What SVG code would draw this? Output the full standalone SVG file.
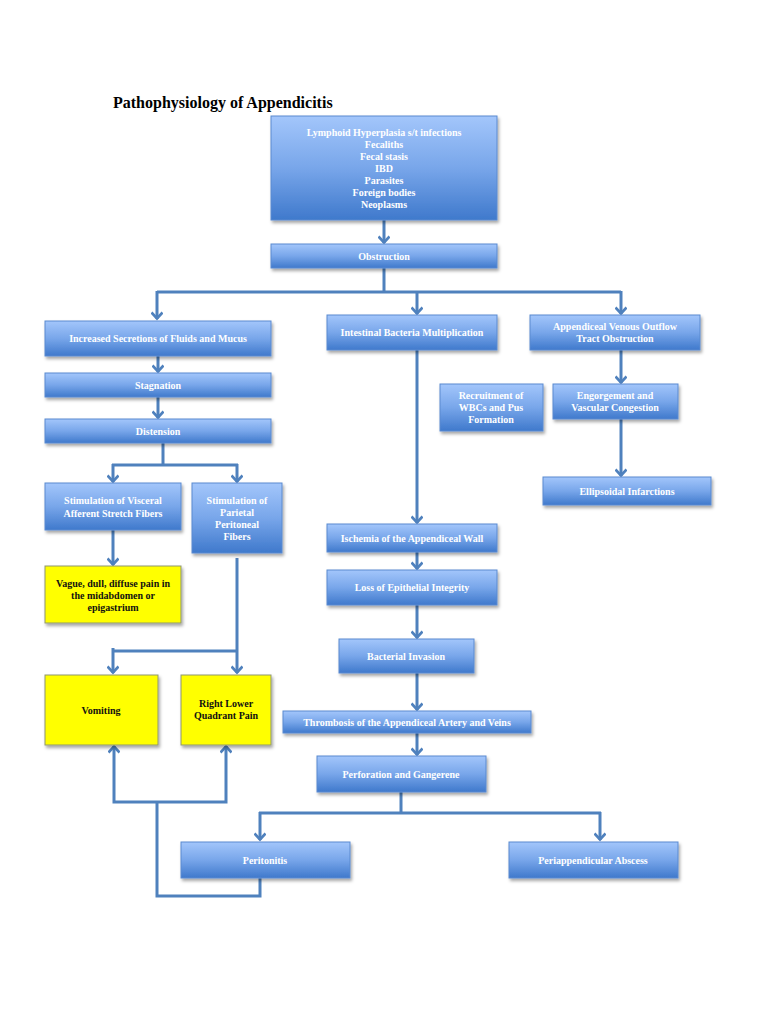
<svg xmlns="http://www.w3.org/2000/svg" width="768" height="1024" viewBox="0 0 768 1024">
<defs>
<linearGradient id="blue" x1="0" y1="0" x2="0" y2="1">
<stop offset="0" stop-color="#a3c6fb"/>
<stop offset="0.5" stop-color="#78a6ea"/>
<stop offset="1" stop-color="#3f79cc"/>
</linearGradient>
<filter id="sh" x="-10%" y="-10%" width="130%" height="140%">
<feDropShadow dx="1.5" dy="2.5" stdDeviation="1.5" flood-color="#000" flood-opacity="0.35"/>
</filter>
<marker id="ar" viewBox="0 0 12 12" refX="10.5" refY="6" markerWidth="12" markerHeight="12" markerUnits="userSpaceOnUse" orient="auto-start-reverse">
<path d="M4,0.5 L10,6 L4,11.5" fill="none" stroke="#4f81bd" stroke-width="2.6" stroke-linejoin="miter"/>
</marker>
</defs>
<style>
.b{fill:url(#blue);stroke:#5a8ad0;stroke-width:1;filter:url(#sh)}
.y{fill:#ffff00;stroke:#8f9670;stroke-width:1;filter:url(#sh)}
.t{font-family:"Liberation Serif","DejaVu Serif",serif;font-size:10px;font-weight:bold;fill:#ffffff;text-anchor:middle}
.k{font-family:"Liberation Serif","DejaVu Serif",serif;font-size:10px;font-weight:bold;fill:#111111;text-anchor:middle}
.c{fill:none;stroke:#4f81bd;stroke-width:3;stroke-linejoin:miter}
.h{font-family:"Liberation Serif","DejaVu Serif",serif;font-size:16px;font-weight:bold;fill:#000}
</style>
<rect width="768" height="1024" fill="#ffffff"/>
<text class="h" x="113" y="108">Pathophysiology of Appendicitis</text>

<g id="connectors">
<path class="c" d="M384,220 V243" marker-end="url(#ar)"/>
<path class="c" d="M384,268 V292 M157,292 H621"/>
<path class="c" d="M157,291 V319" marker-end="url(#ar)"/>
<path class="c" d="M417,292 V314" marker-end="url(#ar)"/>
<path class="c" d="M621,291 V314" marker-end="url(#ar)"/>
<path class="c" d="M158,356 V372" marker-end="url(#ar)"/>
<path class="c" d="M158,397 V418" marker-end="url(#ar)"/>
<path class="c" d="M163,443 V465 M112,465 H238"/>
<path class="c" d="M113,464 V482" marker-end="url(#ar)"/>
<path class="c" d="M237,464 V482" marker-end="url(#ar)"/>
<path class="c" d="M113,530 V565" marker-end="url(#ar)"/>
<path class="c" d="M237,558 V673" marker-end="url(#ar)"/>
<path class="c" d="M113,648 V673" marker-end="url(#ar)"/>
<path class="c" d="M112,651 H237"/>
<path class="c" d="M417,350 V523" marker-end="url(#ar)"/>
<path class="c" d="M417,552 V569" marker-end="url(#ar)"/>
<path class="c" d="M417,605 V638" marker-end="url(#ar)"/>
<path class="c" d="M417,673 V710" marker-end="url(#ar)"/>
<path class="c" d="M417,733 V755" marker-end="url(#ar)"/>
<path class="c" d="M621,350 V383" marker-end="url(#ar)"/>
<path class="c" d="M621,419 V476" marker-end="url(#ar)"/>
<path class="c" d="M401,792 V813 M259,813 H601"/>
<path class="c" d="M260,812 V840" marker-end="url(#ar)"/>
<path class="c" d="M600,812 V840" marker-end="url(#ar)"/>
<path class="c" d="M114,746 V802 H226 V746" marker-start="url(#ar)" marker-end="url(#ar)"/>
<path class="c" d="M157,802 V896 H260 V878"/>
</g>

<g id="causes">
<rect class="b" x="271" y="116" width="226" height="104"/>
<text class="t" x="384" y="135.5">Lymphoid Hyperplasia s/t infections</text>
<text class="t" x="384" y="147.5">Fecaliths</text>
<text class="t" x="384" y="159.5">Fecal stasis</text>
<text class="t" x="384" y="171.5">IBD</text>
<text class="t" x="384" y="183.5">Parasites</text>
<text class="t" x="384" y="195.5">Foreign bodies</text>
<text class="t" x="384" y="208">Neoplasms</text>
</g>
<g id="obstruction">
<rect class="b" x="271" y="244" width="226" height="24"/>
<text class="t" x="384" y="259.5">Obstruction</text>
</g>
<g id="secretions">
<rect class="b" x="45" y="321" width="226" height="35"/>
<text class="t" x="158" y="341.5">Increased Secretions of Fluids and Mucus</text>
</g>
<g id="stagnation">
<rect class="b" x="45" y="373" width="226" height="24"/>
<text class="t" x="158" y="388.5">Stagnation</text>
</g>
<g id="distension">
<rect class="b" x="45" y="419" width="226" height="24"/>
<text class="t" x="158" y="434.5">Distension</text>
</g>
<g id="visceral">
<rect class="b" x="45" y="483" width="136" height="47"/>
<text class="t" x="113" y="503.5">Stimulation of Visceral</text>
<text class="t" x="113" y="516.5">Afferent Stretch Fibers</text>
</g>
<g id="parietal">
<rect class="b" x="192" y="483" width="90" height="70"/>
<text class="t" x="237" y="503.5">Stimulation of</text>
<text class="t" x="237" y="515.5">Parietal</text>
<text class="t" x="237" y="527.5">Peritoneal</text>
<text class="t" x="237" y="539.5">Fibers</text>
</g>
<g id="vague">
<rect class="y" x="45" y="566" width="136" height="57"/>
<text class="k" x="113" y="586.5">Vague, dull, diffuse pain in</text>
<text class="k" x="113" y="598.5">the midabdomen or</text>
<text class="k" x="113" y="610.5">epigastrium</text>
</g>
<g id="vomiting">
<rect class="y" x="45" y="675" width="113" height="70"/>
<text class="k" x="101" y="713.5">Vomiting</text>
</g>
<g id="rlq">
<rect class="y" x="181" y="675" width="90" height="70"/>
<text class="k" x="226" y="706.5">Right Lower</text>
<text class="k" x="226" y="718.5">Quadrant Pain</text>
</g>
<g id="bacteria">
<rect class="b" x="327" y="315" width="170" height="35"/>
<text class="t" x="412" y="335.5">Intestinal Bacteria Multiplication</text>
</g>
<g id="venous">
<rect class="b" x="530" y="315" width="170" height="35"/>
<text class="t" x="615" y="330">Appendiceal Venous Outflow</text>
<text class="t" x="615" y="342">Tract Obstruction</text>
</g>
<g id="recruitment">
<rect class="b" x="440" y="384" width="103" height="47"/>
<text class="t" x="491" y="398.5">Recruitment of</text>
<text class="t" x="491" y="410.5">WBCs and Pus</text>
<text class="t" x="491" y="422.5">Formation</text>
</g>
<g id="engorgement">
<rect class="b" x="553" y="384" width="125" height="35"/>
<text class="t" x="615" y="398.5">Engorgement and</text>
<text class="t" x="615" y="410.5">Vascular Congestion</text>
</g>
<g id="ellipsoidal">
<rect class="b" x="543" y="477" width="168" height="28"/>
<text class="t" x="627" y="494.5">Ellipsoidal Infarctions</text>
</g>
<g id="ischemia">
<rect class="b" x="327" y="524" width="170" height="28"/>
<text class="t" x="412" y="541.5">Ischemia of the Appendiceal Wall</text>
</g>
<g id="loss">
<rect class="b" x="327" y="570" width="170" height="35"/>
<text class="t" x="412" y="590.5">Loss of Epithelial Integrity</text>
</g>
<g id="invasion">
<rect class="b" x="339" y="639" width="135" height="34"/>
<text class="t" x="406" y="659.5">Bacterial Invasion</text>
</g>
<g id="thrombosis">
<rect class="b" x="283" y="711" width="248" height="22"/>
<text class="t" x="407" y="725.5">Thrombosis of the Appendiceal Artery and Veins</text>
</g>
<g id="perforation">
<rect class="b" x="317" y="756" width="169" height="36"/>
<text class="t" x="401" y="777.5">Perforation and Gangerene</text>
</g>
<g id="peritonitis">
<rect class="b" x="181" y="842" width="169" height="36"/>
<text class="t" x="265" y="863.5">Peritonitis</text>
</g>
<g id="abscess">
<rect class="b" x="509" y="842" width="169" height="36"/>
<text class="t" x="593" y="863.5">Periappendicular Abscess</text>
</g>
</svg>
